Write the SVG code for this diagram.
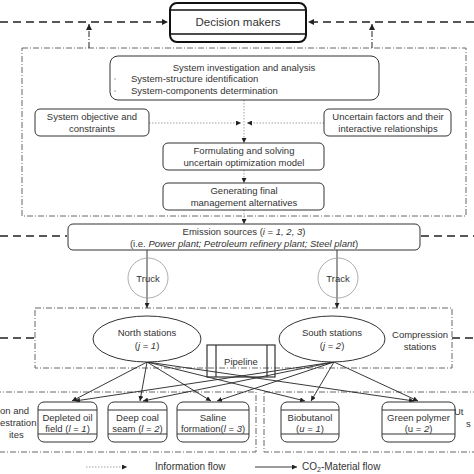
<svg xmlns="http://www.w3.org/2000/svg" width="474" height="474" viewBox="0 0 474 474">
<defs>
<style>
text{font-family:"Liberation Sans",Arial,sans-serif;font-size:9.5px;fill:#333;}
.c{text-anchor:middle;}
.box{fill:#fff;stroke:#333;stroke-width:1;}
.frame{fill:none;stroke:#666;stroke-width:1;stroke-dasharray:6,2,1,2;}
.dash{fill:none;stroke:#222;stroke-width:1.3;stroke-dasharray:8,5;}
.dot{fill:none;stroke:#888;stroke-width:0.8;stroke-dasharray:1.5,1.5;}
.solid{fill:none;stroke:#222;stroke-width:0.9;}
.it{font-style:italic;}
</style>
<marker id="ah" viewBox="0 0 10 10" refX="10" refY="5" markerWidth="6" markerHeight="6" orient="auto" markerUnits="userSpaceOnUse"><path d="M0,0L10,5L0,10z" fill="#222"/></marker>
<marker id="ahs" viewBox="0 0 10 10" refX="10" refY="5" markerWidth="5" markerHeight="5" orient="auto" markerUnits="userSpaceOnUse"><path d="M0,0L10,5L0,10z" fill="#222"/></marker>
</defs>

<g id="frames">
<rect class="frame" x="22" y="48" width="444" height="168"/>
<rect class="frame" x="35" y="308" width="417" height="60"/>
<rect class="frame" x="-5" y="392" width="261" height="60"/>
<rect class="frame" x="264" y="392" width="220" height="60"/>
</g>

<g id="connectors">
<line class="dash" x1="0" y1="22" x2="168" y2="22" marker-end="url(#ah)"/>
<line class="dash" x1="474" y1="22" x2="308" y2="22" marker-end="url(#ah)"/>
<line class="frame" x1="89" y1="48" x2="89" y2="24" marker-end="url(#ah)" style="stroke:#222"/>
<line class="frame" x1="372" y1="48" x2="372" y2="24" marker-end="url(#ah)" style="stroke:#222"/>
<line class="dash" x1="0" y1="236" x2="67" y2="236"/>
<line class="dash" x1="421" y1="236" x2="474" y2="236"/>
<line class="dash" x1="0" y1="338" x2="35" y2="338"/>
<line class="dash" x1="452" y1="338" x2="474" y2="338"/>
<line class="dot" x1="244" y1="100" x2="244" y2="143" marker-end="url(#ahs)"/>
<line class="dot" x1="149" y1="123" x2="241" y2="123" marker-end="url(#ahs)"/>
<line class="dot" x1="324" y1="123" x2="247" y2="123" marker-end="url(#ahs)"/>
<line class="dot" x1="244" y1="170" x2="244" y2="183" marker-end="url(#ahs)"/>
<line class="dot" x1="244" y1="210" x2="244" y2="224" marker-end="url(#ahs)"/>
<line class="solid" x1="147" y1="250" x2="147" y2="308" marker-end="url(#ahs)"/>
<line class="solid" x1="337" y1="250" x2="337" y2="308" marker-end="url(#ahs)"/>
<line class="solid" x1="147" y1="362" x2="72" y2="401" marker-end="url(#ahs)"/>
<line class="solid" x1="147" y1="362" x2="140" y2="401" marker-end="url(#ahs)"/>
<line class="solid" x1="147" y1="362" x2="211" y2="401" marker-end="url(#ahs)"/>
<line class="solid" x1="147" y1="362" x2="305" y2="401" marker-end="url(#ahs)"/>
<line class="solid" x1="147" y1="362" x2="414" y2="401" marker-end="url(#ahs)"/>
<line class="solid" x1="334" y1="362" x2="75" y2="401" marker-end="url(#ahs)"/>
<line class="solid" x1="334" y1="362" x2="143" y2="401" marker-end="url(#ahs)"/>
<line class="solid" x1="334" y1="362" x2="217" y2="401" marker-end="url(#ahs)"/>
<line class="solid" x1="334" y1="362" x2="311" y2="401" marker-end="url(#ahs)"/>
<line class="solid" x1="334" y1="362" x2="418" y2="401" marker-end="url(#ahs)"/>
</g>

<g id="decision-makers">
<rect x="170" y="3" width="136" height="39" rx="7" fill="#fff" stroke="#111" stroke-width="2"/>
<line x1="171" y1="10" x2="305" y2="10" stroke="#111" stroke-width="1.5"/>
<line x1="171" y1="34" x2="305" y2="34" stroke="#111" stroke-width="1.5"/>
<text class="c" x="238" y="26" style="font-size:11.5px">Decision makers</text>
</g>

<g id="system-investigation">
<rect class="box" x="110" y="56" width="269" height="44" rx="8"/>
<text class="c" x="244" y="71">System investigation and analysis</text>
<circle cx="115" cy="79" r="0.8" fill="#999"/>
<circle cx="115" cy="91" r="0.8" fill="#999"/>
<text x="131" y="82">System-structure identification</text>
<text x="131" y="94">System-components determination</text>
</g>

<g id="objective">
<rect class="box" x="35" y="109" width="114" height="27" rx="5"/>
<text class="c" x="92" y="120">System objective and</text>
<text class="c" x="92" y="132">constraints</text>
</g>

<g id="uncertain-factors">
<rect class="box" x="324" y="109" width="127" height="27" rx="5"/>
<text class="c" x="388" y="120">Uncertain factors and their</text>
<text class="c" x="388" y="132">interactive relationships</text>
</g>

<g id="formulating">
<rect class="box" x="163" y="143" width="161" height="27" rx="5"/>
<text class="c" x="244" y="154">Formulating and solving</text>
<text class="c" x="244" y="166">uncertain optimization model</text>
</g>

<g id="generating">
<rect class="box" x="163" y="183" width="161" height="27" rx="5"/>
<text class="c" x="244" y="194">Generating final</text>
<text class="c" x="244" y="206">management alternatives</text>
</g>

<g id="emission-sources">
<rect class="box" x="68" y="224" width="352" height="26" rx="5"/>
<text class="c" x="244" y="235">Emission sources (<tspan class="it">i</tspan> = <tspan class="it">1, 2, 3</tspan>)</text>
<text class="c" x="244" y="247">(i.e. <tspan class="it">Power plant; Petroleum refinery plant; Steel plant</tspan>)</text>
</g>

<g id="truck-left">
<circle cx="148" cy="278" r="20" fill="none" stroke="#999" stroke-width="0.8"/>
<text class="c" x="148" y="282">Truck</text>
</g>
<g id="truck-right">
<circle cx="338" cy="278" r="20" fill="none" stroke="#999" stroke-width="0.8"/>
<text class="c" x="338" y="282">Track</text>
</g>

<g id="north-stations">
<ellipse cx="147" cy="339" rx="54" ry="23" fill="#fff" stroke="#333" stroke-width="1"/>
<text class="c" x="147" y="336">North stations</text>
<text class="c" x="147" y="349">(<tspan class="it">j</tspan> = <tspan class="it">1</tspan>)</text>
</g>

<g id="south-stations">
<ellipse cx="332" cy="339" rx="53" ry="23" fill="#fff" stroke="#333" stroke-width="1"/>
<text class="c" x="332" y="336">South stations</text>
<text class="c" x="332" y="349">(<tspan class="it">j</tspan> = <tspan class="it">2</tspan>)</text>
</g>

<g id="compression-label">
<text class="c" x="420" y="338">Compression</text>
<text class="c" x="420" y="350">stations</text>
</g>

<g id="pipeline">
<rect x="207" y="345" width="68" height="32" fill="none" stroke="#333" stroke-width="1.2"/>
<line x1="216" y1="345" x2="216" y2="377" stroke="#333" stroke-width="1.2"/>
<line x1="267" y1="345" x2="267" y2="377" stroke="#333" stroke-width="1.2"/>
<text class="c" x="241" y="365">Pipeline</text>
</g>

<g id="sequestration-label">
<text x="0" y="414">on and</text>
<text x="0" y="426">estration</text>
<text x="9" y="438">ites</text>
</g>

<g id="utilization-label">
<text x="454" y="415">Ut</text>
<text x="466" y="427">s</text>
</g>

<g id="depleted-oil-field">
<rect class="box" x="38" y="402" width="59" height="40" rx="6"/>
<line x1="38" y1="410" x2="97" y2="410" stroke="#333"/>
<line x1="38" y1="434" x2="97" y2="434" stroke="#333"/>
<text class="c" x="67.5" y="421">Depleted oil</text>
<text class="c" x="67.5" y="432">field (<tspan class="it">l</tspan> = <tspan class="it">1</tspan>)</text>
</g>

<g id="deep-coal-seam">
<rect class="box" x="108" y="402" width="59" height="40" rx="6"/>
<line x1="108" y1="410" x2="167" y2="410" stroke="#333"/>
<line x1="108" y1="434" x2="167" y2="434" stroke="#333"/>
<text class="c" x="137.5" y="421">Deep coal</text>
<text class="c" x="137.5" y="432">seam (<tspan class="it">l</tspan> = <tspan class="it">2</tspan>)</text>
</g>

<g id="saline-formation">
<rect class="box" x="177" y="402" width="72" height="40" rx="6"/>
<line x1="177" y1="410" x2="249" y2="410" stroke="#333"/>
<line x1="177" y1="434" x2="249" y2="434" stroke="#333"/>
<text class="c" x="213" y="421">Saline</text>
<text class="c" x="213" y="432">formation(<tspan class="it">l</tspan> = <tspan class="it">3</tspan>)</text>
</g>

<g id="biobutanol">
<rect class="box" x="281" y="402" width="58" height="40" rx="6"/>
<line x1="281" y1="410" x2="339" y2="410" stroke="#333"/>
<line x1="281" y1="434" x2="339" y2="434" stroke="#333"/>
<text class="c" x="310" y="421">Biobutanol</text>
<text class="c" x="310" y="432">(<tspan class="it">u</tspan> = <tspan class="it">1</tspan>)</text>
</g>

<g id="green-polymer">
<rect class="box" x="382" y="402" width="73" height="40" rx="6"/>
<line x1="382" y1="410" x2="455" y2="410" stroke="#333"/>
<line x1="382" y1="434" x2="455" y2="434" stroke="#333"/>
<text class="c" x="418.5" y="421">Green polymer</text>
<text class="c" x="418.5" y="432">(u = <tspan class="it">2</tspan>)</text>
</g>

<g id="legend">
<line class="dot" x1="86" y1="467" x2="127" y2="467" marker-end="url(#ahs)"/>
<text x="155" y="470" style="font-size:10px">Information flow</text>
<line class="solid" x1="255" y1="467" x2="297" y2="467" marker-end="url(#ahs)"/>
<text x="302" y="470" style="font-size:10px">CO<tspan style="font-size:7px" dy="1.5">2</tspan><tspan dy="-1.5">-Material flow</tspan></text>
</g>
</svg>
